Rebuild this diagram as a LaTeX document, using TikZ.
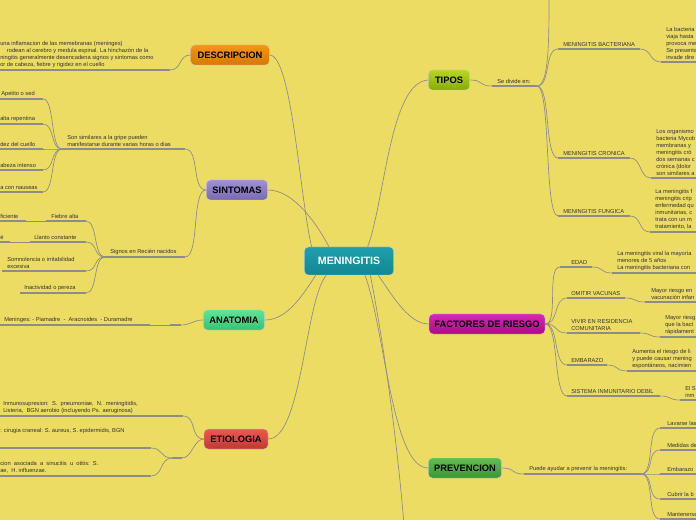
\documentclass[tikz,border=0pt]{standalone}
\usepackage{fontspec}
\setmainfont{Liberation Sans}
\begin{document}
\begin{tikzpicture}[x=0.75pt,y=-0.75pt,
  conn/.style={draw=black!45,line width=0.5pt},
  ul/.style={draw=black!45,line width=1.5pt},
  txt/.style={inner sep=0pt,align=left,font=\fontsize{4.3}{5.2}\selectfont,text=black!80},
  topic/.style={rounded corners=3pt,inner sep=0pt,minimum height=15pt,font=\fontsize{7}{8}\selectfont\bfseries,text=black,draw=black!20,line width=0.3pt}]
\fill[fill={rgb,255:red,236;green,220;blue,100}] (0,0) rectangle (696,520);
\useasboundingbox (0,0) rectangle (696,520);
\newcommand{\leaf}[6]{\coordinate (#1l) at (#2,#4); \coordinate (#1r) at (#3,#4);
  \draw[ul] (#1l)--(#1r);
  \node[txt,anchor=south west] (#1) at (#5,#4-2.5) {#6};}
% main nodes
\node[topic,minimum width=67pt,minimum height=21pt,top color={rgb,255:red,30;green,160;blue,172},bottom color={rgb,255:red,18;green,135;blue,145},text=white,font=\fontsize{8}{9}\selectfont\bfseries] (mc) at (349,261) {MENINGITIS};
\node[topic,minimum width=59pt,top color={rgb,255:red,245;green,150;blue,20},bottom color={rgb,255:red,215;green,120;blue,0}] (des) at (230,55) {DESCRIPCION};
\node[topic,minimum width=46pt,top color={rgb,255:red,160;green,145;blue,210},bottom color={rgb,255:red,120;green,105;blue,180}] (sin) at (237,190) {SINTOMAS};
\node[topic,minimum width=46pt,top color={rgb,255:red,90;green,230;blue,150},bottom color={rgb,255:red,55;green,195;blue,115}] (ana) at (234,320) {ANATOMIA};
\node[topic,minimum width=48pt,top color={rgb,255:red,235;green,90;blue,80},bottom color={rgb,255:red,195;green,55;blue,50}] (eti) at (236,439) {ETIOLOGIA};
\node[topic,minimum width=31pt,top color={rgb,255:red,185;green,215;blue,30},bottom color={rgb,255:red,135;green,170;blue,5}] (tip) at (449,80) {TIPOS};
\node[topic,minimum width=87pt,top color={rgb,255:red,215;green,40;blue,180},bottom color={rgb,255:red,170;green,10;blue,140}] (fac) at (487,324) {FACTORES DE RIESGO};
\node[topic,minimum width=55pt,top color={rgb,255:red,95;green,190;blue,80},bottom color={rgb,255:red,60;green,150;blue,50}] (pre) at (465,468) {PREVENCION};
\coordinate (bot) at (404,525);
% main connectors
\draw[conn] ([xshift=-28pt]mc.north) .. controls (300,200) and (292,55) .. (des.east);
\draw[conn] ([xshift=-15pt]mc.north) .. controls (312,215) and (290,190) .. (sin.east);
\draw[conn] ([xshift=-25pt]mc.south) .. controls (300,300) and (285,320) .. (ana.east);
\draw[conn] ([xshift=-17pt]mc.south) .. controls (305,300) and (302,439) .. (eti.east);
\draw[conn] ([xshift=14pt]mc.north) .. controls (385,200) and (390,82) .. (tip.west);
\draw[conn] ([xshift=22pt]mc.south) .. controls (395,300) and (410,324) .. (fac.west);
\draw[conn] ([xshift=12pt]mc.south) .. controls (385,330) and (392,468) .. (pre.west);
\draw[conn] ([xshift=16pt]mc.south) .. controls (385,350) and (398,450) .. (bot);
% DESCRIPCION
\leaf{d1}{0}{170}{70}{0}{una inflamacion de las memebranas (meninges)\\\hspace*{5pt}rodean al cerebro y medula espinal. La hinchazón de la\\ningitis generalmente desencadena signos y sintomas como\\or de cabeza, fiebre y rigidez en el cuello}
\draw[conn] (d1r) .. controls +(12,0) and +(-12,0) .. (des.west);
% SINTOMAS
\leaf{s1}{62}{185}{149}{67}{Son similares a la gripe pueden\\manifestarse durante varias horas o dias}
\draw[conn] (s1r) .. controls +(15,0) and +(-15,0) .. (sin.west);
\leaf{s11}{0}{43}{99}{1}{Apetito o sed}
\leaf{s12}{0}{43}{124}{0}{alta repentina}
\leaf{s13}{0}{43}{149}{0}{dez del cuello}
\leaf{s14}{0}{43}{170}{0}{abeza intenso}
\leaf{s15}{0}{43}{192}{0}{a con nauseas}
\foreach \c in {s11,s12,s13,s14,s15} \draw[conn] (s1l) .. controls +(-12,0) and +(12,0) .. (\c r);
\leaf{s2}{105}{185}{257}{110}{Signos en Recién nacidos}
\draw[conn] (s2r) .. controls +(15,0) and +(-15,0) .. (sin.west);
\leaf{s21}{46}{86}{221}{51}{Fiebre alta}
\leaf{s21b}{0}{26}{221}{0}{ficiente}
\draw[conn] (s21l)--(s21br);
\leaf{s22}{30}{86}{242}{34}{Llanto constante}
\leaf{s22b}{0}{10}{242}{0}{é}
\draw[conn] (s22l)--(s22br);
\leaf{s23}{2}{86}{271}{7}{Somnolencia o irritabilidad\\excesiva}
\leaf{s24}{20}{86}{293}{24}{Inactividad o pereza}
\foreach \c in {s21,s22,s23,s24} \draw[conn] (s2l) .. controls +(-12,0) and +(12,0) .. (\c r);
% ANATOMIA
\leaf{a1}{0}{150}{325}{4}{Meninges:\ - Piamadre\ \ -\ \ Aracnoides\ \ - Duramadre}
\coordinate (a0l) at (170,325); \coordinate (a0r) at (181,325);
\draw[ul] (a0l)--(a0r);
\draw[conn] (a1r)--(a0l);
\draw[conn] (a0r) .. controls +(10,0) and +(-10,0) .. (ana.west);
% ETIOLOGIA
\leaf{e1}{0}{183}{416}{3}{Inmunosupresion:\ \ S.\ \ pneumoniae,\ \ N.\ \ meningitidis,\\Listeria,\ \ BGN aerobio (incluyendo Ps. aeruginosa)}
\draw[conn] (e1r) .. controls +(14,0) and +(-14,0) .. (eti.west);
\leaf{e2}{0}{151}{448}{0}{: cirugia craneal: S. aureus, S. epidermidis, BGN\\[4.5pt]\mbox{}}
\leaf{e3}{0}{151}{476}{0}{cion\ \ asociada\ \ a\ \ sinucitis\ \ u\ \ otitis:\ \ S.\\ae,\ \ H. influenzae.}
\coordinate (e0l) at (172,458); \coordinate (e0r) at (182,458);
\draw[ul] (e0l)--(e0r);
\draw[conn] (e0r) .. controls +(10,0) and +(-10,0) .. (eti.west);
\foreach \c in {e2,e3} \draw[conn] (e0l) .. controls +(-12,0) and +(12,0) .. (\c r);
% TIPOS
\leaf{t0}{492}{537}{86}{497}{Se divide en:}
\draw[conn] (tip.east) .. controls +(14,0) and +(-14,0) .. (t0l);
\coordinate (ttop) at (549,-5);
\draw[conn] (t0r) .. controls (549,86) and (549,40) .. (ttop);
\leaf{t1}{558}{640}{49}{563}{MENINGITIS BACTERIANA}
\leaf{t2}{558}{630}{158}{563}{MENINGITIS CRONICA}
\leaf{t3}{558}{630}{216}{563}{MENINGITIS FUNGICA}
\foreach \c in {t1,t2,t3} \draw[conn] (t0r) .. controls +(14,0) and +(-14,0) .. (\c l);
\leaf{t1d}{661}{700}{62}{666}{La bacteria\\viaja hasta\\provoca me\\Se presenta\\invade dire}
\leaf{t2d}{651}{700}{178}{656}{Los organismo\\bacteria Mycob\\membranas y\\meningitis cró\\dos semanas c\\crónica (dolor\\son similares a}
\leaf{t3d}{650}{700}{232}{655}{La meningitis f\\meningitis crip\\enfermedad qu\\inmunitarias, c\\trata con un m\\tratamiento, la}
\foreach \c in {t1,t2,t3} \draw[conn] (\c r) .. controls +(12,0) and +(-12,0) .. (\c dl);
% FACTORES
\leaf{f1}{560}{592}{267}{571}{EDAD}
\leaf{f2}{567}{625}{298}{571}{OMITIR VACUNAS}
\leaf{f3}{567}{640}{333}{571}{VIVIR EN RESIDENCIA\\COMUNITARIA}
\leaf{f4}{567}{607}{365}{571}{EMBARAZO}
\leaf{f5}{567}{660}{396}{571}{SISTEMA INMUNITARIO DEBIL}
\foreach \c in {f1,f2,f3,f4,f5} \draw[conn] (fac.east) .. controls +(14,0) and +(-14,0) .. (\c l);
\leaf{f1d}{612}{700}{273}{617}{La meningitis viral la mayoría\\menores de 5 años\\La meningitis bacteriana con}
\leaf{f2d}{645}{700}{302}{651}{Mayor riesgo en\\vacunación infan}
\leaf{f3d}{660}{700}{337}{665}{Mayor riesg\\que la bact\\rápidament}
\leaf{f4d}{627}{700}{371}{632}{Aumenta el riesgo de li\\y puede causar mening\\espontáneos, nacimien}
\leaf{f5d}{680}{700}{400}{685}{El S\\inm}
\foreach \c in {f1,f2,f3,f4,f5} \draw[conn] (\c r) .. controls +(12,0) and +(-12,0) .. (\c dl);
% PREVENCION
\leaf{p0}{524}{641}{474}{529}{Puede ayudar a prevenir la meningitis:}
\draw[conn] (pre.east) .. controls +(14,0) and +(-14,0) .. (p0l);
\leaf{p1}{660}{700}{428}{667}{Lavarse las}
\leaf{p2}{660}{700}{450}{667}{Medidas de}
\leaf{p3}{660}{700}{474}{667}{Embarazo}
\leaf{p4}{660}{700}{499}{667}{Cubrir la b}
\leaf{p5}{660}{700}{519}{667}{Mantenerse}
\foreach \c in {p1,p2,p3,p4,p5} \draw[conn] (p0r) .. controls +(14,0) and +(-14,0) .. (\c l);
\end{tikzpicture}
\end{document}
